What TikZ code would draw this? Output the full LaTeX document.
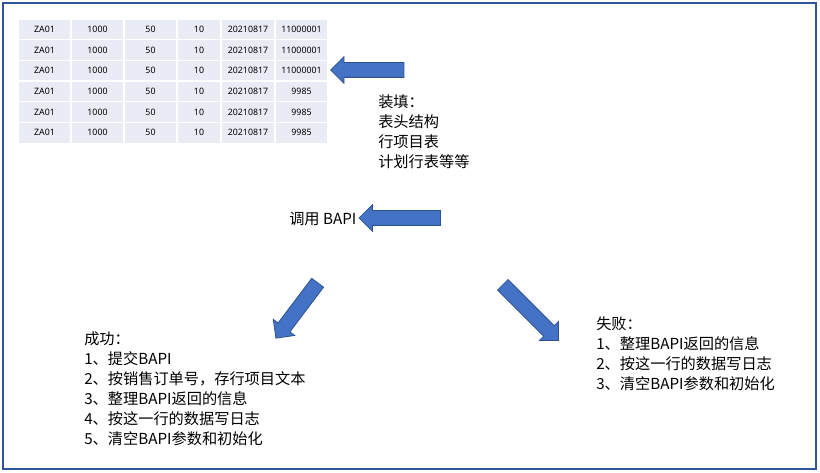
\documentclass[tikz,border=0pt]{standalone}
\usepackage{fontspec}
\setmainfont{Noto Sans CJK SC}
\newfontfamily\cellfont{Noto Sans}
\usetikzlibrary{shapes.arrows}
\definecolor{frameblue}{RGB}{47,85,151}
\definecolor{arrowblue}{RGB}{68,114,196}
\definecolor{arrowedge}{RGB}{47,82,143}
\definecolor{cellgray}{RGB}{233,235,245}
\tikzset{
  cell/.style={fill=cellgray,draw=white,line width=1pt,inner sep=0pt,font=\cellfont\fontsize{6.6}{7}\selectfont},
  bigarrow/.style={single arrow,fill=arrowblue,draw=arrowedge,line width=0.6pt,inner xsep=0pt,inner ysep=5.25pt,single arrow head extend=4.5pt,single arrow head indent=0pt},
  note/.style={anchor=north west,inner sep=0pt,align=left,font=\fontsize{11.4}{15}\selectfont}
}
\begin{document}
\begin{tikzpicture}[x=0.75pt,y=0.75pt,yscale=-1,xscale=1]
    \useasboundingbox (0,0) rectangle (820,473);
    % Frame
    \draw [frameblue,line width=1.2pt] (3,3) rectangle (816,469);

    % Table rows
    \foreach \r/\last in {0/11000001,1/11000001,2/11000001,3/9985,4/9985,5/9985}{
      \pgfmathsetmacro{\ytop}{19+20.7*\r}
      \pgfmathsetmacro{\ybot}{19+20.7*(\r+1)}
      \foreach \xa/\xb/\txt in {18/71/ZA01,71/124/1000,124/177/50,177/221/10,221/275/20210817,275/328/\last}{
        \draw [cell] (\xa,\ytop) rectangle (\xb,\ybot);
        \node [cell,draw=none,fill=none] (c\r-\xa) at ({(\xa+\xb)/2},{(\ytop+\ybot)/2}) {\txt};
      }
    }

    % Block arrows
    \node [bigarrow,minimum height=55pt,rotate=180] (fill) at (371,70) {};
    \node [bigarrow,minimum height=61pt,rotate=180] (call) at (403.5,218) {};
    \node [bigarrow,minimum height=52pt,rotate=-127] (okarrow) at (299,307.5) {};
    \node [bigarrow,minimum height=59pt,rotate=-45] (failarrow) at (528,310) {};

    % Text Node
    \node [note] (filltxt) at (378,94) {装填：\\表头结构\\行项目表\\计划行表等等};
    % Text Node
    \node [note,anchor=west] (calltxt) at (289,219) {调用 BAPI};
    % Text Node
    \node [note] (oktxt) at (84,331) {成功：\\1、提交BAPI\\2、按销售订单号，存行项目文本\\3、整理BAPI返回的信息\\4、按这一行的数据写日志\\5、清空BAPI参数和初始化};
    % Text Node
    \node [note] (failtxt) at (596,316) {失败：\\1、整理BAPI返回的信息\\2、按这一行的数据写日志\\3、清空BAPI参数和初始化};
\end{tikzpicture}
\end{document}
